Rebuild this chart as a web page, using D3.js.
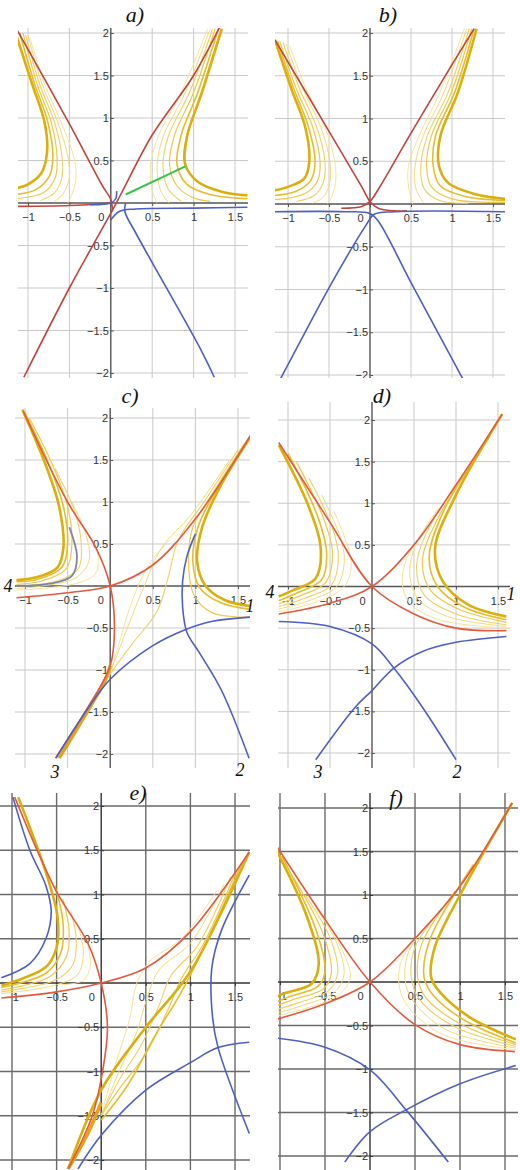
<!DOCTYPE html>
<html>
<head>
<meta charset="utf-8">
<script src="https://cdn.jsdelivr.net/npm/d3@7"></script>
<style>
  body { margin: 0; background: #fff; }
  .tick text { font-family: "Liberation Sans", Arial, sans-serif; font-size: 11px; fill: #333; }
  .lbl { font-family: "Liberation Serif", serif; font-style: italic; font-size: 22px; fill: #111; }
</style>
</head>
<body>
<svg id="chart" width="520" height="1170"></svg>
<script>
const xTicks = [-1, -0.5, 0, 0.5, 1, 1.5];
const yTicks = [2, 1.5, 1, 0.5, -0.5, -1, -1.5, -2];
const xGrid = [-1, -0.5, 0.5, 1, 1.5];
const yGrid = [2, 1.5, 1, 0.5, -0.5, -1, -1.5, -2];

// panel a
const aRed = [
  [[-1.14, 2.05], [-0.5, 0.93], [-0.1, 0.2], [0.0, 0.04], [0.02, -0.1]],
  [[-1.05, -2.05], [-0.5, -1.0], [0.0, -0.12], [0.12, 0.1], [0.5, 0.8], [1.0, 1.5], [1.33, 2.1]],
  [[-1.14, -0.04], [-0.5, -0.03], [0.0, 0.0]]
];
const aBlue = [
  [[0.0, -0.2], [0.1, -0.1], [0.3, -0.07], [1.0, -0.06], [1.65, -0.05]],
  [[0.18, 0.0], [0.17, -0.1], [0.3, -0.35], [1.09, -1.73], [1.25, -2.05]],
  [[-0.25, -0.02], [0.0, 0.0], [0.06, 0.05], [0.07, 0.14]]
];
const aGreen = [[[0.18, 0.1], [0.9, 0.43]]];
const aYellowL = [
  [[-0.98, 1.95], [-0.8, 1.4], [-0.6, 0.95], [-0.45, 0.55], [-0.42, 0.3], [-0.47, 0.1], [-0.52, 0.0]],
  [[-1.0, 1.97], [-0.83, 1.4], [-0.64, 0.95], [-0.52, 0.55], [-0.5, 0.3], [-0.58, 0.1], [-0.68, 0.02]],
  [[-1.03, 1.98], [-0.86, 1.4], [-0.68, 0.95], [-0.59, 0.55], [-0.59, 0.3], [-0.68, 0.12], [-0.85, 0.03]],
  [[-1.06, 2.0], [-0.89, 1.4], [-0.72, 0.95], [-0.65, 0.55], [-0.67, 0.3], [-0.8, 0.13], [-1.15, 0.05]],
  [[-1.1, 2.0], [-0.92, 1.4], [-0.76, 0.95], [-0.7, 0.55], [-0.74, 0.32], [-0.9, 0.16], [-1.15, 0.1]],
  [[-1.15, 2.0], [-0.95, 1.4], [-0.8, 0.95], [-0.77, 0.6], [-0.84, 0.35], [-1.0, 0.22], [-1.15, 0.17]]
];
const aYellowR = [
  [[1.17, 2.05], [0.85, 1.3], [0.58, 0.8], [0.48, 0.45], [0.5, 0.15], [0.56, 0.0]],
  [[1.2, 2.05], [0.9, 1.3], [0.64, 0.8], [0.56, 0.45], [0.6, 0.15], [0.7, 0.0]],
  [[1.23, 2.05], [0.95, 1.3], [0.7, 0.8], [0.63, 0.45], [0.69, 0.17], [0.85, 0.02]],
  [[1.26, 2.05], [1.0, 1.3], [0.77, 0.8], [0.71, 0.45], [0.8, 0.2], [1.0, 0.06], [1.2, 0.02]],
  [[1.3, 2.05], [1.05, 1.3], [0.85, 0.8], [0.8, 0.45], [0.92, 0.22], [1.2, 0.1], [1.65, 0.05]],
  [[1.34, 2.05], [1.1, 1.3], [0.92, 0.78], [0.9, 0.45], [1.05, 0.25], [1.35, 0.13], [1.65, 0.09]]
];

// panel b
const bRed = [
  [[-1.16, 1.92], [-0.5, 0.85], [-0.1, 0.2], [0.0, 0.03], [0.1, -0.05], [0.3, -0.08], [0.45, -0.08]],
  [[-0.35, -0.05], [-0.1, -0.03], [0.0, 0.03], [0.1, 0.17], [0.5, 0.83], [1.0, 1.63], [1.27, 2.05]]
];
const bBlue = [
  [[-1.16, -0.09], [-0.3, -0.09], [0.0, -0.11], [0.1, -0.2], [0.5, -0.92], [1.05, -1.9], [1.14, -2.06]],
  [[1.65, -0.09], [0.3, -0.09], [0.05, -0.12], [-0.05, -0.25], [-0.5, -0.98], [-1.0, -1.88], [-1.1, -2.06]]
];
const bYellowL = [
  [[-0.98, 1.85], [-0.78, 1.35], [-0.55, 0.9], [-0.43, 0.5], [-0.42, 0.25], [-0.47, 0.08], [-0.52, 0.0]],
  [[-1.02, 1.87], [-0.82, 1.35], [-0.6, 0.9], [-0.49, 0.5], [-0.49, 0.25], [-0.57, 0.08], [-0.7, 0.01]],
  [[-1.06, 1.89], [-0.86, 1.35], [-0.65, 0.9], [-0.55, 0.5], [-0.57, 0.25], [-0.68, 0.1], [-0.9, 0.03]],
  [[-1.1, 1.9], [-0.9, 1.35], [-0.7, 0.9], [-0.61, 0.5], [-0.64, 0.27], [-0.8, 0.12], [-1.16, 0.05]],
  [[-1.13, 1.91], [-0.93, 1.35], [-0.75, 0.9], [-0.67, 0.5], [-0.72, 0.28], [-0.9, 0.15], [-1.16, 0.1]],
  [[-1.16, 1.92], [-0.96, 1.35], [-0.79, 0.9], [-0.74, 0.5], [-0.8, 0.3], [-1.0, 0.2], [-1.16, 0.16]]
];
const bYellowR = [
  [[1.15, 2.05], [0.85, 1.3], [0.6, 0.8], [0.47, 0.45], [0.47, 0.2], [0.52, 0.0]],
  [[1.18, 2.05], [0.9, 1.3], [0.65, 0.8], [0.55, 0.45], [0.56, 0.18], [0.65, 0.02]],
  [[1.21, 2.05], [0.95, 1.3], [0.7, 0.8], [0.62, 0.45], [0.66, 0.18], [0.85, 0.04], [1.2, 0.01]],
  [[1.24, 2.05], [0.99, 1.3], [0.75, 0.8], [0.69, 0.45], [0.75, 0.2], [1.0, 0.06], [1.65, 0.02]],
  [[1.27, 2.05], [1.03, 1.3], [0.8, 0.8], [0.77, 0.45], [0.85, 0.22], [1.15, 0.09], [1.65, 0.04]],
  [[1.3, 2.05], [1.07, 1.3], [0.86, 0.8], [0.84, 0.45], [0.95, 0.25], [1.3, 0.11], [1.65, 0.06]]
];

// panel c
const cRed = [
  [[-1.1, -0.14], [-0.5, -0.08], [0.0, 0.0], [0.5, 0.25], [1.0, 0.8], [1.5, 1.55], [1.65, 1.8]],
  [[-1.02, 2.08], [-0.5, 1.0], [-0.17, 0.46], [0.0, 0.0], [0.05, -0.5], [0.0, -0.95], [-0.29, -1.49], [-0.64, -2.05]]
];
const cBlue = [
  [[1.65, -0.37], [1.2, -0.42], [0.88, -0.52], [0.5, -0.71], [0.0, -1.11], [-0.29, -1.5], [-0.64, -2.05]],
  [[1.0, 0.62], [0.9, 0.35], [0.85, 0.06], [0.85, -0.25], [0.9, -0.55], [1.05, -0.8], [1.31, -1.25], [1.63, -2.05]]
];
const cGray = [[[-0.48, 0.7], [-0.39, 0.35], [-0.45, 0.12], [-0.7, 0.03], [-1.1, 0.0]]];
const cYellowL = [
  [[-0.25, 0.6], [-0.15, 0.4], [-0.17, 0.15], [-0.4, 0.03], [-1.1, -0.05]],
  [[-0.45, 1.0], [-0.28, 0.6], [-0.25, 0.3], [-0.4, 0.1], [-0.8, 0.0], [-1.1, -0.03]],
  [[-0.65, 1.4], [-0.42, 0.9], [-0.34, 0.5], [-0.38, 0.2], [-0.7, 0.04], [-1.1, 0.0]],
  [[-0.95, 2.0], [-0.68, 1.45], [-0.5, 0.95], [-0.45, 0.5], [-0.52, 0.2], [-0.8, 0.06], [-1.1, 0.02]],
  [[-1.0, 2.06], [-0.72, 1.45], [-0.55, 0.95], [-0.5, 0.5], [-0.57, 0.22], [-0.85, 0.08], [-1.1, 0.05]],
  [[-1.03, 2.1], [-0.76, 1.45], [-0.6, 0.95], [-0.55, 0.45], [-0.62, 0.22], [-0.88, 0.1], [-1.1, 0.07]]
];
const cYellowR = [
  [[0.7, 0.55], [0.45, 0.25], [0.25, -0.2], [0.1, -0.7], [0.0, -1.05]],
  [[1.4, 1.5], [0.95, 0.85], [0.6, 0.45], [0.4, 0.0], [0.2, -0.5], [0.05, -0.9], [-0.1, -1.25], [-0.35, -1.6], [-0.63, -2.05]],
  [[1.5, 1.62], [1.1, 1.0], [0.8, 0.55], [0.68, 0.1], [0.55, -0.3], [0.25, -0.7], [0.0, -1.05], [-0.3, -1.55], [-0.62, -2.05]],
  [[1.58, 1.7], [1.2, 1.1], [0.97, 0.7], [0.92, 0.3], [0.98, -0.1], [1.2, -0.32], [1.65, -0.37]],
  [[1.62, 1.75], [1.25, 1.15], [1.03, 0.7], [0.97, 0.3], [1.05, -0.02], [1.3, -0.2], [1.65, -0.28]],
  [[1.65, 1.78], [1.3, 1.2], [1.08, 0.7], [1.02, 0.3], [1.12, 0.0], [1.35, -0.17], [1.65, -0.24]]
];
const cYellowB = [[[-0.6, -2.05], [-0.3, -1.55], [-0.05, -1.1], [0.0, -0.95]]];

// panel d
const dRed = [
  [[-1.11, 1.73], [-0.5, 0.77], [0.0, 0.0], [0.5, -0.33], [1.0, -0.5], [1.6, -0.53]],
  [[-1.11, -0.33], [-0.5, -0.2], [0.0, 0.0], [0.5, 0.5], [1.0, 1.22], [1.55, 2.07]]
];
const dBlue = [
  [[-1.11, -0.42], [-0.5, -0.48], [0.0, -0.69], [0.26, -0.98], [0.6, -1.45], [1.0, -2.08]],
  [[-0.67, -2.08], [-0.2, -1.45], [0.0, -1.25], [0.26, -0.98], [0.6, -0.78], [1.0, -0.67], [1.6, -0.6]]
];
const dYellowL = [
  [[-0.45, 0.9], [-0.28, 0.45], [-0.25, 0.2], [-0.35, -0.02], [-0.7, -0.2], [-1.11, -0.3]],
  [[-0.6, 1.1], [-0.38, 0.6], [-0.33, 0.3], [-0.42, 0.0], [-0.75, -0.17], [-1.11, -0.27]],
  [[-0.75, 1.3], [-0.47, 0.7], [-0.4, 0.35], [-0.48, 0.02], [-0.8, -0.14], [-1.11, -0.24]],
  [[-0.9, 1.5], [-0.57, 0.8], [-0.47, 0.4], [-0.55, 0.05], [-0.85, -0.11], [-1.11, -0.21]],
  [[-1.0, 1.6], [-0.65, 0.85], [-0.54, 0.4], [-0.6, 0.08], [-0.9, -0.08], [-1.11, -0.17]],
  [[-1.11, 1.7], [-0.75, 0.95], [-0.61, 0.45], [-0.67, 0.1], [-0.95, -0.05], [-1.11, -0.12]]
];
const dYellowR = [
  [[0.6, 0.65], [0.42, 0.35], [0.36, 0.05], [0.45, -0.2], [0.8, -0.4], [1.6, -0.5]],
  [[0.8, 0.95], [0.52, 0.5], [0.45, 0.15], [0.55, -0.15], [0.9, -0.36], [1.6, -0.48]],
  [[1.0, 1.22], [0.65, 0.65], [0.53, 0.25], [0.62, -0.1], [1.0, -0.33], [1.6, -0.46]],
  [[1.2, 1.5], [0.75, 0.75], [0.6, 0.3], [0.7, -0.05], [1.05, -0.28], [1.6, -0.43]],
  [[1.4, 1.8], [0.85, 0.9], [0.68, 0.35], [0.78, 0.0], [1.1, -0.25], [1.6, -0.4]],
  [[1.55, 2.07], [1.0, 1.1], [0.75, 0.45], [0.85, 0.05], [1.15, -0.22], [1.6, -0.36]]
];

// panel e
const eRed = [
  [[-1.12, -0.17], [-0.5, -0.1], [0.0, 0.0], [0.5, 0.17], [1.0, 0.58], [1.66, 1.48]],
  [[-0.97, 2.1], [-0.51, 1.05], [-0.15, 0.45], [0.0, 0.0], [0.07, -0.5], [0.01, -1.03], [-0.1, -1.5], [-0.37, -2.1]]
];
const eBlue = [
  [[-0.99, 2.1], [-0.8, 1.5], [-0.62, 1.1], [-0.56, 0.81], [-0.62, 0.5], [-0.8, 0.22], [-1.12, 0.06]],
  [[1.66, 1.22], [1.35, 0.6], [1.24, 0.17], [1.25, -0.4], [1.31, -0.73], [1.66, -1.7]],
  [[-0.26, -2.1], [0.0, -1.72], [0.5, -1.21], [1.0, -0.9], [1.31, -0.73], [1.66, -0.67]]
];
const eYellowL = [
  [[-0.15, 0.42], [-0.12, 0.2], [-0.2, 0.03], [-0.45, -0.02]],
  [[-0.25, 0.62], [-0.2, 0.35], [-0.26, 0.1], [-0.5, -0.02], [-1.12, -0.12]],
  [[-0.34, 0.8], [-0.28, 0.5], [-0.32, 0.2], [-0.52, 0.03], [-1.12, -0.1]],
  [[-0.43, 0.95], [-0.36, 0.6], [-0.39, 0.3], [-0.58, 0.07], [-1.12, -0.08]],
  [[-0.52, 1.1], [-0.43, 0.7], [-0.45, 0.35], [-0.62, 0.11], [-1.12, -0.05]],
  [[-0.93, 2.1], [-0.62, 1.25], [-0.49, 0.75], [-0.5, 0.4], [-0.62, 0.18], [-1.12, -0.03]]
];
const eYellowR = [
  [[1.3, 1.05], [0.9, 0.5], [0.55, 0.25], [0.4, 0.0], [0.32, -0.4], [0.15, -0.95], [0.0, -1.5]],
  [[1.38, 1.12], [1.0, 0.45], [0.65, 0.15], [0.52, -0.15], [0.4, -0.55], [0.2, -1.0], [0.0, -1.5]],
  [[1.45, 1.2], [1.08, 0.42], [0.78, 0.08], [0.65, -0.25], [0.45, -0.7], [0.2, -1.1], [0.0, -1.5]],
  [[1.52, 1.28], [1.15, 0.45], [0.9, 0.05], [0.75, -0.3], [0.5, -0.8], [0.2, -1.2], [0.0, -1.5]],
  [[1.58, 1.36], [1.2, 0.5], [0.9, -0.1], [0.6, -0.6], [0.3, -1.15], [0.0, -1.55]],
  [[1.66, 1.48], [1.0, 0.13], [0.5, -0.5], [0.0, -1.21], [-0.37, -2.1]]
];
const eYellowB = [[[-0.37, -2.1], [-0.15, -1.7], [0.0, -1.35]]];

// panel f
const fRed = [
  [[-1.08, 1.63], [-0.5, 0.72], [0.0, 0.0], [0.5, -0.49], [1.0, -0.72], [1.61, -0.8]],
  [[-1.08, -0.44], [-0.5, -0.25], [0.0, 0.0], [0.5, 0.5], [1.0, 1.1], [1.58, 2.06]]
];
const fBlue = [
  [[-1.08, -0.64], [-0.5, -0.75], [0.0, -1.01], [0.4, -1.47], [0.87, -2.07]],
  [[-0.28, -2.07], [0.0, -1.72], [0.4, -1.47], [1.0, -1.17], [1.62, -0.96]]
];
const fYellowL = [
  [[-0.5, 0.72], [-0.3, 0.35], [-0.22, 0.05], [-0.35, -0.15], [-0.7, -0.3], [-1.08, -0.4]],
  [[-0.6, 0.85], [-0.37, 0.45], [-0.29, 0.08], [-0.4, -0.12], [-0.75, -0.27], [-1.08, -0.37]],
  [[-0.72, 1.0], [-0.44, 0.5], [-0.36, 0.1], [-0.46, -0.1], [-0.8, -0.24], [-1.08, -0.33]],
  [[-0.85, 1.2], [-0.52, 0.55], [-0.43, 0.1], [-0.52, -0.08], [-0.85, -0.2], [-1.08, -0.29]],
  [[-0.98, 1.45], [-0.6, 0.6], [-0.5, 0.12], [-0.58, -0.05], [-0.9, -0.17], [-1.08, -0.25]],
  [[-1.08, 1.6], [-0.7, 0.75], [-0.57, 0.2], [-0.65, -0.02], [-0.95, -0.13], [-1.08, -0.19]]
];
const fYellowR = [
  [[0.5, 0.5], [0.35, 0.25], [0.32, 0.0], [0.4, -0.25], [0.8, -0.6], [1.62, -0.78]],
  [[0.65, 0.68], [0.43, 0.35], [0.39, 0.02], [0.48, -0.22], [0.85, -0.55], [1.62, -0.76]],
  [[0.8, 0.85], [0.5, 0.4], [0.46, 0.04], [0.55, -0.2], [0.95, -0.52], [1.62, -0.74]],
  [[0.95, 1.05], [0.58, 0.45], [0.53, 0.05], [0.62, -0.18], [1.0, -0.48], [1.62, -0.72]],
  [[1.15, 1.35], [0.67, 0.5], [0.6, 0.06], [0.7, -0.15], [1.05, -0.44], [1.62, -0.7]],
  [[1.58, 2.06], [1.0, 1.0], [0.72, 0.4], [0.68, 0.05], [0.78, -0.12], [1.1, -0.4], [1.62, -0.66]]
];

const panels = [
  { id: 'a', label: 'a)', lx: 135, ly: 22, xr: [28, 235], yr: [33, 373], clip: [18, 28, 248, 378], dark: false,
    yellow: [aYellowL, aYellowR], red: aRed, blue: aBlue, green: aGreen },
  { id: 'b', label: 'b)', lx: 388, ly: 22, xr: [288, 493], yr: [33, 375], clip: [275, 28, 505, 378], dark: false,
    yellow: [bYellowL, bYellowR], red: bRed, blue: bBlue },
  { id: 'c', label: 'c)', lx: 130, ly: 403, xr: [25, 238], yr: [418, 754], clip: [15, 408, 250, 768], dark: false,
    yellow: [cYellowL, cYellowR], thick: cYellowB, red: cRed, blue: cBlue, gray: cGray,
    nums: [['4', 8, 592], ['1', 250, 612], ['3', 55, 778], ['2', 240, 776]] },
  { id: 'd', label: 'd)', lx: 382, ly: 403, xr: [288, 498], yr: [420, 753], clip: [278, 402, 510, 768], dark: false,
    yellow: [dYellowL, dYellowR], red: dRed, blue: dBlue,
    nums: [['4', 270, 598], ['1', 511, 600], ['3', 318, 778], ['2', 457, 778]] },
  { id: 'e', label: 'e)', lx: 138, ly: 800, xr: [12, 235], yr: [806, 1160], clip: [0, 793, 250, 1170], dark: true,
    yellow: [eYellowL, eYellowR], thick: eYellowB, red: eRed, blue: eBlue },
  { id: 'f', label: 'f)', lx: 396, ly: 805, xr: [280, 505], yr: [808, 1156], clip: [278, 793, 518, 1170], dark: true,
    yellow: [fYellowL, fYellowR], red: fRed, blue: fBlue }
];

const yellowColors = ['#f6e39a', '#f3da7c', '#efd066', '#ecc94f', '#e6bd2c', '#dcae0c'];
const yellowWidths = [1, 1, 1.1, 1.2, 1.6, 2.6];

const svg = d3.select('#chart');

panels.forEach(p => {
  const x = d3.scaleLinear().domain([-1, 1.5]).range(p.xr);
  const y = d3.scaleLinear().domain([2, -2]).range(p.yr);
  const [cx0, cy0, cx1, cy1] = p.clip;

  svg.append('clipPath').attr('id', 'clip-' + p.id)
    .append('rect').attr('x', cx0).attr('y', cy0).attr('width', cx1 - cx0).attr('height', cy1 - cy0);

  const g = svg.append('g').attr('clip-path', `url(#clip-${p.id})`);
  const gridColor = p.dark ? '#6a6a6a' : '#c9c9c9';
  const gridW = p.dark ? 1.4 : 1;

  // gridlines
  g.selectAll('.vg').data(xGrid).enter().append('line')
    .attr('x1', d => x(d)).attr('x2', d => x(d)).attr('y1', cy0).attr('y2', cy1)
    .attr('stroke', gridColor).attr('stroke-width', gridW);
  g.selectAll('.hg').data(yGrid).enter().append('line')
    .attr('y1', d => y(d)).attr('y2', d => y(d)).attr('x1', cx0).attr('x2', cx1)
    .attr('stroke', gridColor).attr('stroke-width', gridW);

  // axes
  const axisColor = p.dark ? '#333' : '#555';
  g.append('line').attr('x1', cx0).attr('x2', cx1).attr('y1', y(0)).attr('y2', y(0))
    .attr('stroke', axisColor).attr('stroke-width', 1.4);
  g.append('line').attr('x1', x(0)).attr('x2', x(0)).attr('y1', cy0).attr('y2', cy1)
    .attr('stroke', axisColor).attr('stroke-width', 1.4);

  const xAxis = g.append('g')
    .attr('transform', `translate(0,${y(0)})`)
    .call(d3.axisBottom(x).tickValues(xTicks).tickSize(3).tickFormat(d3.format('')));
  xAxis.select('.domain').remove();
  xAxis.selectAll('.tick line').attr('stroke', axisColor);
  xAxis.selectAll('.tick text').attr('dy', '1.1em')
    .attr('dx', d => d === 0 ? -10 : 0);

  const yAxis = g.append('g')
    .attr('transform', `translate(${x(0)},0)`)
    .call(d3.axisLeft(y).tickValues(yTicks).tickSize(3).tickFormat(d3.format('')));
  yAxis.select('.domain').remove();
  yAxis.selectAll('.tick line').attr('stroke', axisColor).attr('x2', 3);
  yAxis.selectAll('.tick text').attr('x', -2);

  const line = d3.line()
    .x(d => x(d[0]))
    .y(d => y(d[1]))
    .curve(d3.curveCatmullRom.alpha(0.5));

  // yellow families
  p.yellow.forEach(family => {
    g.selectAll(null).data(family).enter().append('path')
      .attr('d', line)
      .attr('fill', 'none')
      .attr('stroke', (d, i) => yellowColors[i])
      .attr('stroke-width', (d, i) => yellowWidths[i]);
  });
  if (p.thick) {
    g.selectAll(null).data(p.thick).enter().append('path')
      .attr('d', line).attr('fill', 'none')
      .attr('stroke', '#e2a21a').attr('stroke-width', 3.5);
  }
  if (p.gray) {
    g.selectAll(null).data(p.gray).enter().append('path')
      .attr('d', line).attr('fill', 'none')
      .attr('stroke', '#7d86a3').attr('stroke-width', 1.8);
  }

  g.selectAll(null).data(p.red).enter().append('path')
    .attr('d', line).attr('fill', 'none')
    .attr('stroke', p.id === 'a' || p.id === 'b' ? '#c2443c' : '#e15a3e')
    .attr('stroke-width', 1.6);

  g.selectAll(null).data(p.blue).enter().append('path')
    .attr('d', line).attr('fill', 'none')
    .attr('stroke', '#4c5fc4').attr('stroke-width', 1.6);

  if (p.green) {
    g.selectAll(null).data(p.green).enter().append('path')
      .attr('d', line).attr('fill', 'none')
      .attr('stroke', '#3fc24c').attr('stroke-width', 2);
  }

  svg.append('text').attr('class', 'lbl')
    .attr('x', p.lx).attr('y', p.ly).attr('text-anchor', 'middle').text(p.label);

  (p.nums || []).forEach(n => {
    svg.append('text').attr('class', 'lbl').style('font-size', '18px')
      .attr('x', n[1]).attr('y', n[2]).attr('text-anchor', 'middle').text(n[0]);
  });
});
</script>
</body>
</html>
